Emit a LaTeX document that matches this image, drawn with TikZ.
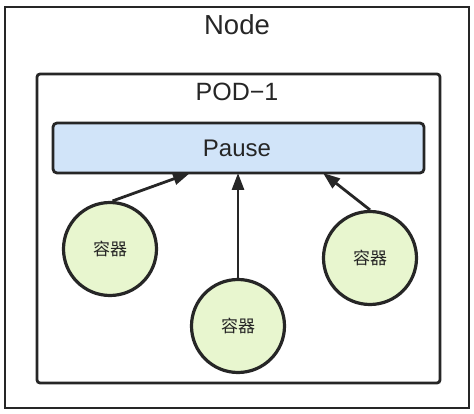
\documentclass[tikz,border=0pt]{standalone}
\usepackage{fontspec}
\setmainfont{Liberation Sans}
\newfontfamily\cjk{Noto Sans CJK SC}
\usetikzlibrary{arrows.meta}
\definecolor{ln}{HTML}{262626}
\definecolor{pausefill}{HTML}{D1E4F9}
\definecolor{ctfill}{HTML}{E8F6CF}
\tikzset{
  box/.style={draw=ln, line width=2.5pt},
  podbox/.style={draw=ln, line width=2.8pt, rounded corners=3pt},
  pausebox/.style={draw=ln, line width=2.8pt, rounded corners=4pt, fill=pausefill},
  ctr/.style={circle, draw=ln, line width=3.2pt, fill=ctfill, minimum size=93pt, inner sep=0pt, font=\cjk\fontsize{17}{20}\selectfont, text=ln},
  lbl/.style={font=\fontsize{25}{28}\selectfont, text=ln, inner sep=0pt},
  conn/.style={draw=ln, line width=2.8pt, -{Triangle[length=17pt,width=12pt]}}
}
\begin{document}
\begin{tikzpicture}[x=1pt,y=-1pt]
\useasboundingbox (0,0) rectangle (474,414);
\fill[white] (0,0) rectangle (474,414);
\draw[box] (5,7) rectangle (469,408);
\node[lbl, font=\fontsize{27.5}{30}\selectfont] (nodelbl) at (237,25) {Node};
\draw[podbox] (37,74) rectangle (440,383);
\node[lbl] (podlbl) at (237,92) {POD−1};
\draw[pausebox] (53,123) rectangle (424,173);
\node[lbl, font=\fontsize{24}{27}\selectfont] (pauselbl) at (237,148) {Pause};
\coordinate (tL) at (190,173);
\coordinate (tM) at (238,173);
\coordinate (tR) at (323,173);
\node[ctr] (c1) at (110,249) {容器};
\node[ctr] (c2) at (238,326) {容器};
\node[ctr] (c3) at (370,258) {容器};
\draw[conn] (c1.87) -- (tL);
\draw[conn] (c2.north) -- (tM);
\draw[conn] (c3.north) -- (tR);
\end{tikzpicture}
\end{document}
